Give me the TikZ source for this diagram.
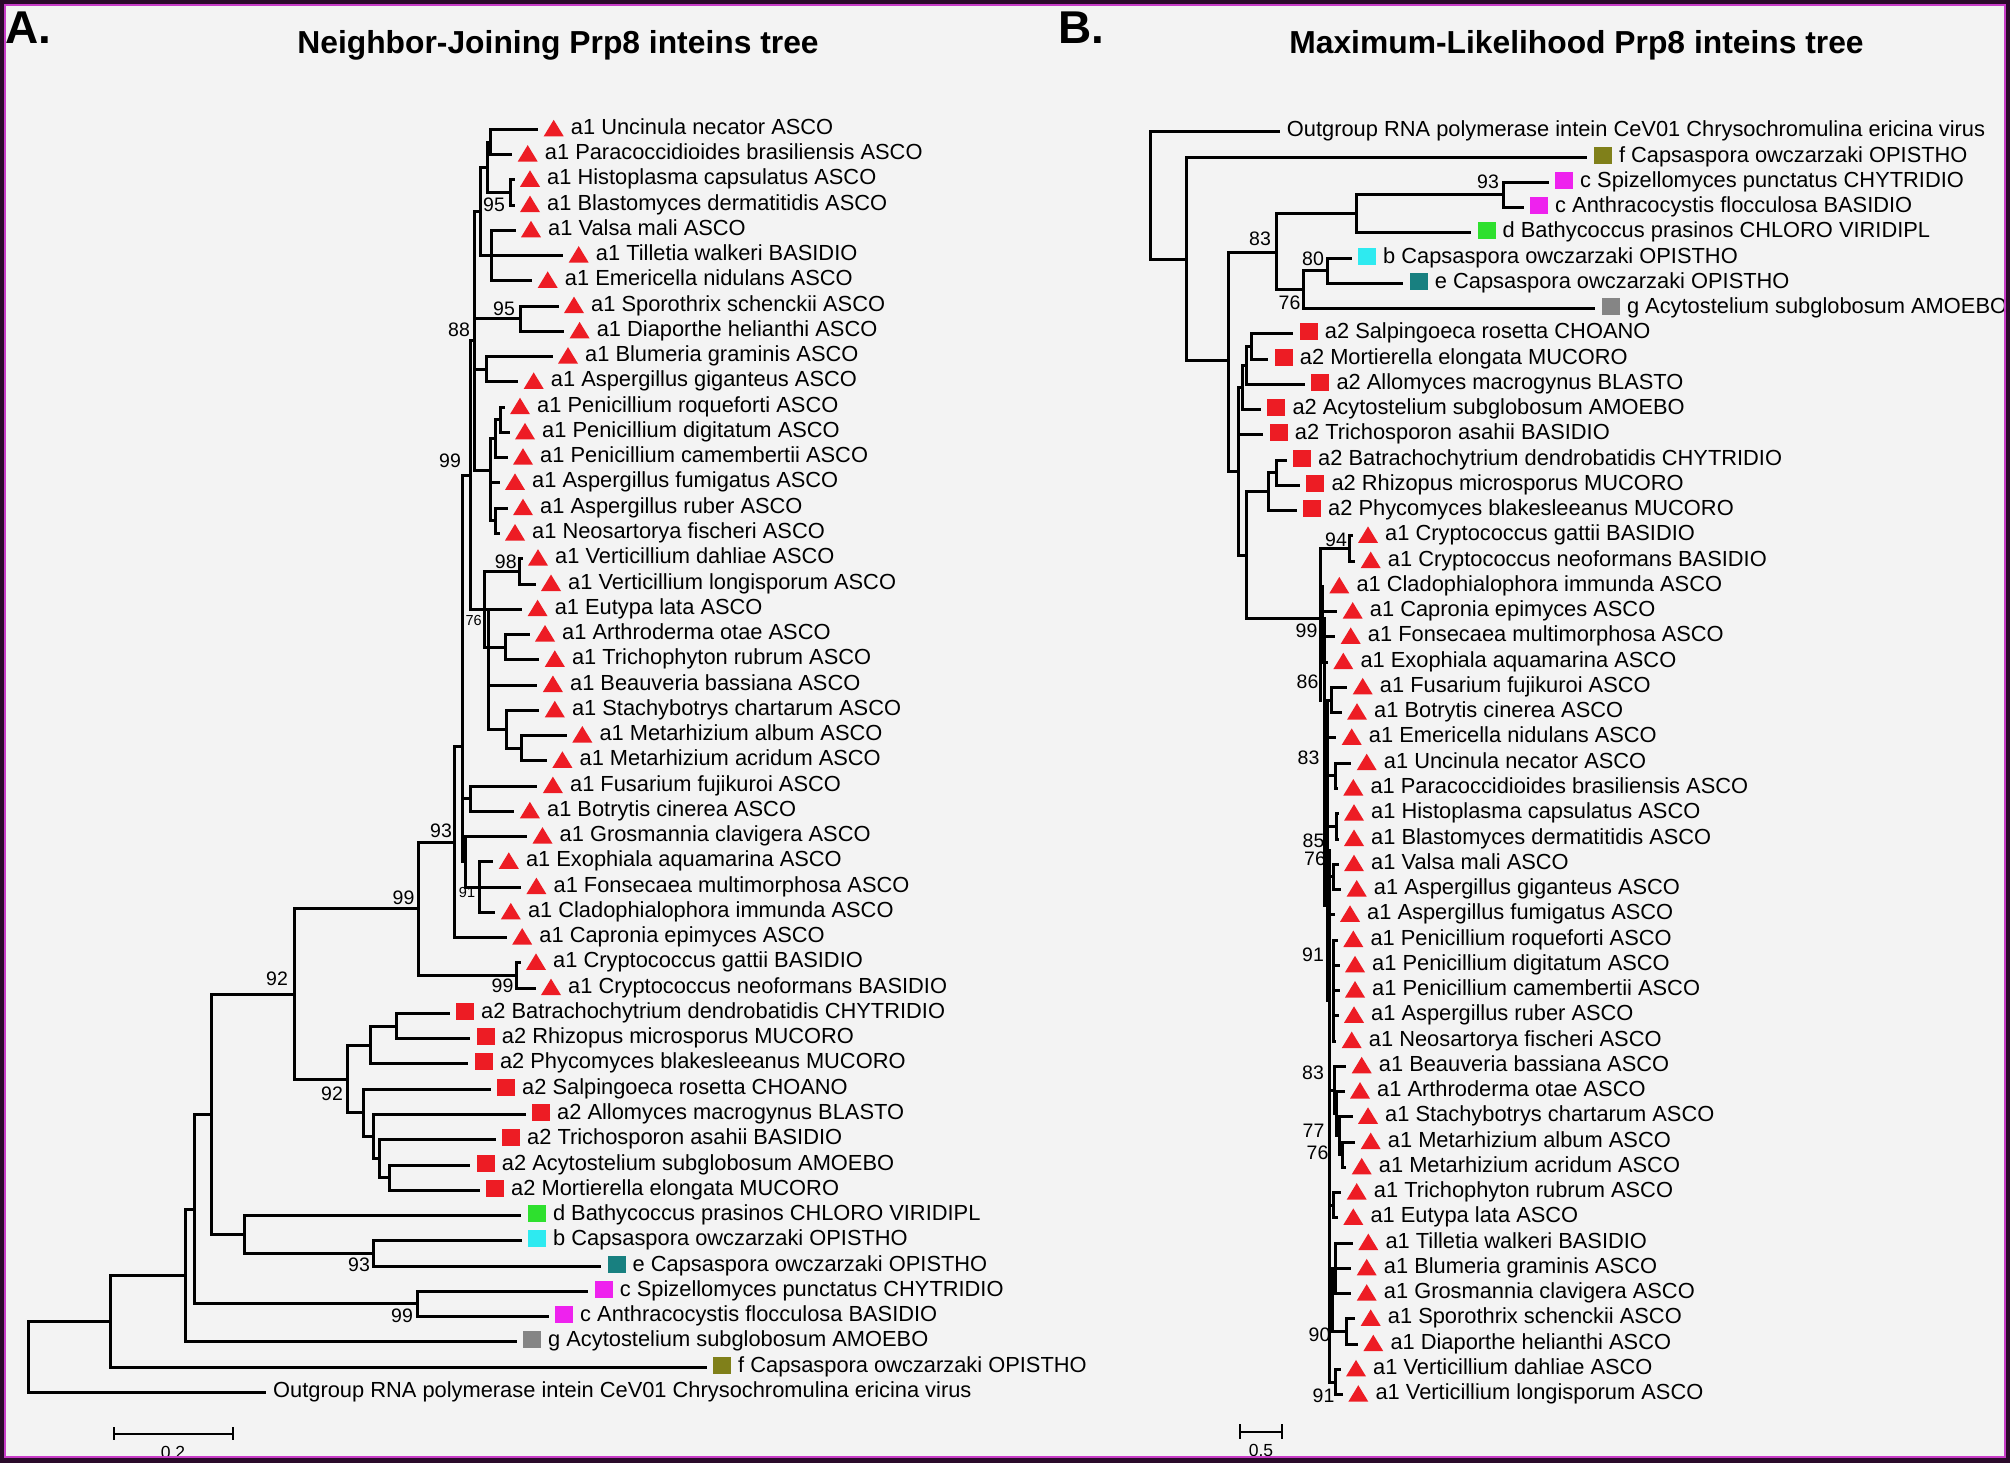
\documentclass[tikz,border=0pt]{standalone}
\usepackage{fontspec}
\setmainfont{Liberation Sans}
\definecolor{mkred}{HTML}{ED1C24}
\definecolor{mkgreen}{HTML}{2EE02E}
\definecolor{mkcyan}{HTML}{2EEAF0}
\definecolor{mkteal}{HTML}{188080}
\definecolor{mkmag}{HTML}{EE22EE}
\definecolor{mkgray}{HTML}{858585}
\definecolor{mkolive}{HTML}{80801A}
\definecolor{bgc}{HTML}{F3F3F3}
\definecolor{framedark}{HTML}{2A0A2A}
\definecolor{framemag}{HTML}{C83CC8}
\tikzset{
  br/.style={line width=3pt, line cap=rect},
  lbl/.style={inner sep=0pt, font=\fontsize{21.85}{24}\selectfont, anchor=base west},
  bs/.style={inner sep=0pt, font=\fontsize{19.5}{22}\selectfont},
  bss/.style={inner sep=0pt, font=\fontsize{14.5}{16}\selectfont},
  titl/.style={inner sep=0pt, font=\fontsize{31.8}{34}\selectfont\bfseries, anchor=base},
  panl/.style={inner sep=0pt, font=\fontsize{46}{50}\selectfont\bfseries, anchor=base west},
  sclbl/.style={inner sep=0pt, font=\fontsize{17.5}{19}\selectfont},
}
\newcommand\trileaf[4]{%
  \fill[mkred] (#2+7,#3+7) -- (#2+27,#3+7) -- (#2+17,#3-9.5) -- cycle;
  \node[lbl] (#1) at (#2+34,#3+5) {#4};}
\newcommand\sqleaf[5]{%
  \fill[#4] (#2+8,#3-10.5) rectangle (#2+26,#3+6.5);
  \node[lbl] (#1) at (#2+33,#3+5) {#5};}
\begin{document}
\begin{tikzpicture}[x=1pt,y=-1pt]
\useasboundingbox (0,0) rectangle (2010,1462);
\fill[bgc] (0,0) rectangle (2010,1462);

% ---------- headings
\node[panl] (pA) at (5,43) {A.};
\node[panl] (pB) at (1058,43) {B.};
\node[titl] (tA) at (558,53) {Neighbor-Joining Prp8 inteins tree};
\node[titl] (tB) at (1576.5,53) {Maximum-Likelihood Prp8 inteins tree};

% ---------- Panel A branches
\draw[br]
(490,129.3)--(490,154.6) (490,129.3)--(536.7,129.3) (490,154.6)--(510.7,154.6)
(510.7,179.8)--(510.7,205.1) (510.7,179.8)--(513,179.8) (510.7,205.1)--(513,205.1)
(487,142)--(487,192.5) (487,142)--(490,142) (487,192.5)--(510.7,192.5)
(491.7,230.3)--(491.7,280.9) (491.7,230.3)--(514,230.3) (480,255.6)--(561.7,255.6) (491.7,280.9)--(530.7,280.9)
(480,167.2)--(480,255.6) (480,167.2)--(487,167.2)
(520,306.1)--(520,331.4) (520,306.1)--(557,306.1) (520,331.4)--(562.6,331.4)
(486.7,356.6)--(486.7,381.9) (486.7,356.6)--(551,356.6) (486.7,381.9)--(516.7,381.9)
(500.3,407.2)--(500.3,432.4) (500.3,407.2)--(503,407.2) (500.3,432.4)--(508,432.4)
(495.7,419.8)--(495.7,457.7) (495.7,419.8)--(500.3,419.8) (495.7,457.7)--(506,457.7)
(495.7,508.2)--(495.7,533.5) (495.7,508.2)--(506,508.2) (495.7,533.5)--(498,533.5)
(490,438.7)--(490,520.8) (490,438.7)--(495.7,438.7) (490,482.9)--(498,482.9) (490,520.8)--(495.7,520.8)
(474,211.4)--(474,470) (474,211.4)--(480,211.4) (474,318.8)--(520,318.8) (474,369.2)--(486.7,369.2) (474,470)--(490,470)
(519.8,558.7)--(519.8,584) (519.8,558.7)--(521,558.7) (519.8,584)--(534,584)
(484.2,571.3)--(484.2,646.7) (484.2,571.3)--(519.8,571.3) (470.8,609.2)--(520.6,609.2)
(488.3,609.2)--(488.3,729.2) (484.2,647.1)--(505.2,647.1) (488.3,685)--(535.9,685) (488.3,729.2)--(506.4,729.2)
(505.2,634.5)--(505.2,659.8) (505.2,634.5)--(528,634.5) (505.2,659.8)--(537.8,659.8)
(506.4,710.3)--(506.4,748.1) (506.4,710.3)--(537.8,710.3) (506.4,748.1)--(521.7,748.1)
(521.7,735.5)--(521.7,760.8) (521.7,735.5)--(565.3,735.5) (521.7,760.8)--(545.4,760.8)
(470.8,340.7)--(470.8,609.2) (470.8,340.7)--(474,340.7)
(462.7,475)--(462.7,861.8) (462.7,475)--(470.8,475) (462.7,798.7)--(470,798.7) (462.7,861.8)--(465,861.8)
(470,786.1)--(470,811.3) (470,786.1)--(535.9,786.1) (470,811.3)--(512.9,811.3)
(465,836.6)--(465,887.1) (465,836.6)--(525.5,836.6) (465,887.1)--(479.3,887.1)
(479.3,861.8)--(479.3,912.4) (479.3,861.8)--(491.8,861.8) (479.3,887.1)--(519.4,887.1) (479.3,912.4)--(493.8,912.4)
(454,746.7)--(454,937.6) (454,746.7)--(462.7,746.7) (454,937.6)--(505.2,937.6)
(516.7,962.9)--(516.7,988.1) (516.7,962.9)--(519,962.9) (516.7,988.1)--(534,988.1)
(418.3,842.2)--(418.3,975.5) (418.3,842.2)--(454,842.2) (418.3,975.5)--(516.7,975.5)
(396.7,1013.4)--(396.7,1038.7) (396.7,1013.4)--(448,1013.4) (396.7,1038.7)--(468.7,1038.7)
(370,1026)--(370,1063.9) (370,1026)--(396.7,1026) (370,1063.9)--(466.8,1063.9)
(389,1165)--(389,1190.2) (389,1165)--(468.7,1165) (389,1190.2)--(478,1190.2)
(379.5,1139.7)--(379.5,1177.6) (379.5,1139.7)--(494,1139.7) (379.5,1177.6)--(389,1177.6)
(373,1114.4)--(373,1158.7) (373,1114.4)--(524,1114.4) (373,1158.7)--(379.5,1158.7)
(363.5,1089.2)--(363.5,1136.6) (363.5,1089.2)--(489,1089.2) (363.5,1136.6)--(373,1136.6)
(347.6,1045)--(347.6,1112.9) (347.6,1045)--(370,1045) (347.6,1112.9)--(363.5,1112.9)
(294.6,908.9)--(294.6,1079) (294.6,908.9)--(418.3,908.9) (294.6,1079)--(347.6,1079)
(373,1240.7)--(373,1266) (373,1240.7)--(520,1240.7) (373,1266)--(599.5,1266)
(244.3,1215.5)--(244.3,1253.4) (244.3,1215.5)--(519.8,1215.5) (244.3,1253.4)--(373,1253.4)
(211.7,994)--(211.7,1234.5) (211.7,994)--(294.6,994) (211.7,1234.5)--(244.3,1234.5)
(417.7,1291.3)--(417.7,1316.5) (417.7,1291.3)--(586.7,1291.3) (417.7,1316.5)--(547,1316.5)
(194.5,1114.2)--(194.5,1303.9) (194.5,1114.2)--(211.7,1114.2) (194.5,1303.9)--(417.7,1303.9)
(185,1209)--(185,1341.8) (185,1209)--(194.5,1209) (185,1341.8)--(515,1341.8)
(110,1275.4)--(110,1367) (110,1275.4)--(185,1275.4) (110,1367)--(705,1367)
(28.7,1321.2)--(28.7,1392.3) (28.7,1321.2)--(110,1321.2) (28.7,1392.3)--(264.7,1392.3);

% ---------- Panel A leaves
\trileaf{a1}{536.7}{129.3}{a1 Uncinula necator ASCO}
\trileaf{a2}{510.7}{154.6}{a1 Paracoccidioides brasiliensis ASCO}
\trileaf{a3}{513}{179.8}{a1 Histoplasma capsulatus ASCO}
\trileaf{a4}{513}{205.1}{a1 Blastomyces dermatitidis ASCO}
\trileaf{a5}{514}{230.3}{a1 Valsa mali ASCO}
\trileaf{a6}{561.7}{255.6}{a1 Tilletia walkeri BASIDIO}
\trileaf{a7}{530.7}{280.9}{a1 Emericella nidulans ASCO}
\trileaf{a8}{557}{306.1}{a1 Sporothrix schenckii ASCO}
\trileaf{a9}{562.6}{331.4}{a1 Diaporthe helianthi ASCO}
\trileaf{a10}{551}{356.6}{a1 Blumeria graminis ASCO}
\trileaf{a11}{516.7}{381.9}{a1 Aspergillus giganteus ASCO}
\trileaf{a12}{503}{407.2}{a1 Penicillium roqueforti ASCO}
\trileaf{a13}{508}{432.4}{a1 Penicillium digitatum ASCO}
\trileaf{a14}{506}{457.7}{a1 Penicillium camembertii ASCO}
\trileaf{a15}{498}{482.9}{a1 Aspergillus fumigatus ASCO}
\trileaf{a16}{506}{508.2}{a1 Aspergillus ruber ASCO}
\trileaf{a17}{498}{533.5}{a1 Neosartorya fischeri ASCO}
\trileaf{a18}{521}{558.7}{a1 Verticillium dahliae ASCO}
\trileaf{a19}{534}{584}{a1 Verticillium longisporum ASCO}
\trileaf{a20}{520.6}{609.2}{a1 Eutypa lata ASCO}
\trileaf{a21}{528}{634.5}{a1 Arthroderma otae ASCO}
\trileaf{a22}{537.8}{659.8}{a1 Trichophyton rubrum ASCO}
\trileaf{a23}{535.9}{685}{a1 Beauveria bassiana ASCO}
\trileaf{a24}{537.8}{710.3}{a1 Stachybotrys chartarum ASCO}
\trileaf{a25}{565.3}{735.5}{a1 Metarhizium album ASCO}
\trileaf{a26}{545.4}{760.8}{a1 Metarhizium acridum ASCO}
\trileaf{a27}{535.9}{786.1}{a1 Fusarium fujikuroi ASCO}
\trileaf{a28}{512.9}{811.3}{a1 Botrytis cinerea ASCO}
\trileaf{a29}{525.5}{836.6}{a1 Grosmannia clavigera ASCO}
\trileaf{a30}{491.8}{861.8}{a1 Exophiala aquamarina ASCO}
\trileaf{a31}{519.4}{887.1}{a1 Fonsecaea multimorphosa ASCO}
\trileaf{a32}{493.8}{912.4}{a1 Cladophialophora immunda ASCO}
\trileaf{a33}{505.2}{937.6}{a1 Capronia epimyces ASCO}
\trileaf{a34}{519}{962.9}{a1 Cryptococcus gattii BASIDIO}
\trileaf{a35}{534}{988.1}{a1 Cryptococcus neoformans BASIDIO}
\sqleaf{a36}{448}{1013.4}{mkred}{a2 Batrachochytrium dendrobatidis CHYTRIDIO}
\sqleaf{a37}{468.7}{1038.7}{mkred}{a2 Rhizopus microsporus MUCORO}
\sqleaf{a38}{466.8}{1063.9}{mkred}{a2 Phycomyces blakesleeanus MUCORO}
\sqleaf{a39}{489}{1089.2}{mkred}{a2 Salpingoeca rosetta CHOANO}
\sqleaf{a40}{524}{1114.4}{mkred}{a2 Allomyces macrogynus BLASTO}
\sqleaf{a41}{494}{1139.7}{mkred}{a2 Trichosporon asahii BASIDIO}
\sqleaf{a42}{468.7}{1165}{mkred}{a2 Acytostelium subglobosum AMOEBO}
\sqleaf{a43}{478}{1190.2}{mkred}{a2 Mortierella elongata MUCORO}
\sqleaf{a44}{519.8}{1215.5}{mkgreen}{d Bathycoccus prasinos CHLORO VIRIDIPL}
\sqleaf{a45}{520}{1240.7}{mkcyan}{b Capsaspora owczarzaki OPISTHO}
\sqleaf{a46}{599.5}{1266}{mkteal}{e Capsaspora owczarzaki OPISTHO}
\sqleaf{a47}{586.7}{1291.3}{mkmag}{c Spizellomyces punctatus CHYTRIDIO}
\sqleaf{a48}{547}{1316.5}{mkmag}{c Anthracocystis flocculosa BASIDIO}
\sqleaf{a49}{515}{1341.8}{mkgray}{g Acytostelium subglobosum AMOEBO}
\sqleaf{a50}{705}{1367}{mkolive}{f Capsaspora owczarzaki OPISTHO}
\node[lbl] (a51) at (273,1397.3) {Outgroup RNA polymerase intein CeV01 Chrysochromulina ericina virus};

% ---------- Panel A bootstrap values
\node[bs] (sA1) at (494,204.5) {95};
\node[bs] (sA2) at (504,308.5) {95};
\node[bs] (sA3) at (459,329.5) {88};
\node[bs] (sA4) at (450,460.5) {99};
\node[bs] (sA5) at (505.8,561.5) {98};
\node[bss] (sA6) at (473.6,620) {76};
\node[bs] (sA7) at (441,830.5) {93};
\node[bss] (sA8) at (467,892.5) {91};
\node[bs] (sA9) at (403.5,897.5) {99};
\node[bs] (sA10) at (502.5,985.5) {99};
\node[bs] (sA11) at (277,979) {92};
\node[bs] (sA12) at (332,1094) {92};
\node[bs] (sA13) at (359,1265) {93};
\node[bs] (sA14) at (402,1316) {99};

% ---------- Panel A scale bar
\draw[line width=2pt] (113.5,1433.5)--(232.8,1433.5) (113.5,1427)--(113.5,1440) (232.8,1427)--(232.8,1440);
\node[sclbl] (scA) at (173,1452) {0.2};

% ---------- Panel B branches
\draw[br]
(1150,131.7)--(1150,259.5) (1150,131.7)--(1278.3,131.7) (1150,259.5)--(1186.7,259.5)
(1186.7,157)--(1186.7,360.8) (1186.7,157)--(1585.8,157) (1186.7,360.8)--(1228.3,360.8)
(1228.3,252)--(1228.3,471) (1228.3,252)--(1276,252) (1228.3,471)--(1238.3,471)
(1276,213.8)--(1276,289.6) (1276,213.8)--(1356.7,213.8) (1276,289.6)--(1303.3,289.6)
(1356.7,194.8)--(1356.7,232.7) (1356.7,194.8)--(1503,194.8) (1356.7,232.7)--(1469.5,232.7)
(1503,182.2)--(1503,207.5) (1503,182.2)--(1547,182.2) (1503,207.5)--(1522,207.5)
(1303.3,270.6)--(1303.3,308.5) (1303.3,270.6)--(1327.7,270.6) (1303.3,308.5)--(1593.8,308.5)
(1327.7,258)--(1327.7,283.3) (1327.7,258)--(1350,258) (1327.7,283.3)--(1401.7,283.3)
(1251.7,333.8)--(1251.7,359) (1251.7,333.8)--(1291.7,333.8) (1251.7,359)--(1266.7,359)
(1246.7,346.4)--(1246.7,384.3) (1246.7,346.4)--(1251.7,346.4) (1246.7,384.3)--(1303.3,384.3)
(1242.7,365.4)--(1242.7,409.6) (1242.7,365.4)--(1246.7,365.4) (1242.7,409.6)--(1259.3,409.6)
(1238.3,387.5)--(1238.3,555) (1238.3,387.5)--(1242.7,387.5) (1238.3,434.8)--(1261.7,434.8) (1238.3,555)--(1246.7,555)
(1276.7,460.1)--(1276.7,485.3) (1276.7,460.1)--(1285,460.1) (1276.7,485.3)--(1298.3,485.3)
(1268.3,472.7)--(1268.3,510.6) (1268.3,472.7)--(1276.7,472.7) (1268.3,510.6)--(1295,510.6)
(1246.7,491.7)--(1246.7,618.3) (1246.7,491.7)--(1268.3,491.7) (1246.7,618.3)--(1320,618.3)
(1349.3,535.9)--(1349.3,561.1) (1349.3,535.9)--(1351,535.9) (1349.3,561.1)--(1353.7,561.1)
(1320,548.5)--(1320,700) (1320,548.5)--(1349.3,548.5)
(1320,586.4)--(1322.3,586.4)
(1322,586.4)--(1322,662.2) (1322,611.6)--(1335.7,611.6) (1322,636.9)--(1333.7,636.9) (1322,662.2)--(1326.3,662.2)
(1324,618.3)--(1324,905)
(1331.7,687.4)--(1331.7,712.7) (1331.7,687.4)--(1345.7,687.4) (1331.7,712.7)--(1340,712.7) (1324,700)--(1331.7,700)
(1324,737.9)--(1334.7,737.9)
(1327,700)--(1327,1000)
(1335,763.2)--(1335,788.5) (1335,763.2)--(1349.7,763.2) (1335,788.5)--(1336.3,788.5) (1327,775.8)--(1335,775.8)
(1336,813.7)--(1336,839) (1336,813.7)--(1337,813.7) (1336,839)--(1337,839) (1327,826.3)--(1336,826.3)
(1333,864.2)--(1333,889.5) (1333,864.2)--(1337,864.2) (1333,889.5)--(1339.7,889.5) (1327,876.8)--(1333,876.8)
(1329,850)--(1329,1382)
(1329,914.8)--(1333,914.8)
(1333,940)--(1333,1041.1) (1333,940)--(1336.3,940) (1333,965.3)--(1338,965.3) (1333,990.5)--(1338,990.5) (1333,1015.8)--(1337,1015.8) (1333,1041.1)--(1334.7,1041.1)
(1334,1066.3)--(1334,1113.7) (1334,1066.3)--(1344.7,1066.3) (1329,1090)--(1334,1090)
(1336.5,1091.6)--(1336.5,1135.8) (1336.5,1091.6)--(1343,1091.6) (1334,1113.7)--(1336.5,1113.7) (1336.5,1135.8)--(1339.3,1135.8)
(1339.3,1116.8)--(1339.3,1154.8) (1339.3,1116.8)--(1351,1116.8) (1339.3,1154.8)--(1342.7,1154.8)
(1342.7,1142.1)--(1342.7,1167.4) (1342.7,1142.1)--(1353.7,1142.1) (1342.7,1167.4)--(1344.7,1167.4)
(1333,1192.6)--(1333,1217.9) (1333,1192.6)--(1339.7,1192.6) (1333,1217.9)--(1336.3,1217.9) (1329,1205.3)--(1333,1205.3)
(1335,1243.1)--(1335,1293.7) (1335,1243.1)--(1351.3,1243.1) (1335,1268.4)--(1349.7,1268.4) (1335,1293.7)--(1349.7,1293.7)
(1332,1268.4)--(1332,1331.6) (1332,1331.6)--(1346,1331.6)
(1346,1318.9)--(1346,1344.2) (1346,1318.9)--(1353.7,1318.9) (1346,1344.2)--(1356.3,1344.2)
(1335,1369.4)--(1335,1394.7) (1335,1369.4)--(1339,1369.4) (1335,1394.7)--(1341.3,1394.7) (1329,1382)--(1335,1382);

% ---------- Panel B leaves
\node[lbl] (b1) at (1286.7,136.7) {Outgroup RNA polymerase intein CeV01 Chrysochromulina ericina virus};
\sqleaf{b2}{1585.8}{157}{mkolive}{f Capsaspora owczarzaki OPISTHO}
\sqleaf{b3}{1547}{182.2}{mkmag}{c Spizellomyces punctatus CHYTRIDIO}
\sqleaf{b4}{1522}{207.5}{mkmag}{c Anthracocystis flocculosa BASIDIO}
\sqleaf{b5}{1469.5}{232.7}{mkgreen}{d Bathycoccus prasinos CHLORO VIRIDIPL}
\sqleaf{b6}{1350}{258}{mkcyan}{b Capsaspora owczarzaki OPISTHO}
\sqleaf{b7}{1401.7}{283.3}{mkteal}{e Capsaspora owczarzaki OPISTHO}
\sqleaf{b8}{1593.8}{308.5}{mkgray}{g Acytostelium subglobosum AMOEBO}
\sqleaf{b9}{1291.7}{333.8}{mkred}{a2 Salpingoeca rosetta CHOANO}
\sqleaf{b10}{1266.7}{359}{mkred}{a2 Mortierella elongata MUCORO}
\sqleaf{b11}{1303.3}{384.3}{mkred}{a2 Allomyces macrogynus BLASTO}
\sqleaf{b12}{1259.3}{409.6}{mkred}{a2 Acytostelium subglobosum AMOEBO}
\sqleaf{b13}{1261.7}{434.8}{mkred}{a2 Trichosporon asahii BASIDIO}
\sqleaf{b14}{1285}{460.1}{mkred}{a2 Batrachochytrium dendrobatidis CHYTRIDIO}
\sqleaf{b15}{1298.3}{485.3}{mkred}{a2 Rhizopus microsporus MUCORO}
\sqleaf{b16}{1295}{510.6}{mkred}{a2 Phycomyces blakesleeanus MUCORO}
\trileaf{b17}{1351}{535.9}{a1 Cryptococcus gattii BASIDIO}
\trileaf{b18}{1353.7}{561.1}{a1 Cryptococcus neoformans BASIDIO}
\trileaf{b19}{1322.3}{586.4}{a1 Cladophialophora immunda ASCO}
\trileaf{b20}{1335.7}{611.6}{a1 Capronia epimyces ASCO}
\trileaf{b21}{1333.7}{636.9}{a1 Fonsecaea multimorphosa ASCO}
\trileaf{b22}{1326.3}{662.2}{a1 Exophiala aquamarina ASCO}
\trileaf{b23}{1345.7}{687.4}{a1 Fusarium fujikuroi ASCO}
\trileaf{b24}{1340}{712.7}{a1 Botrytis cinerea ASCO}
\trileaf{b25}{1334.7}{737.9}{a1 Emericella nidulans ASCO}
\trileaf{b26}{1349.7}{763.2}{a1 Uncinula necator ASCO}
\trileaf{b27}{1336.3}{788.5}{a1 Paracoccidioides brasiliensis ASCO}
\trileaf{b28}{1337}{813.7}{a1 Histoplasma capsulatus ASCO}
\trileaf{b29}{1337}{839}{a1 Blastomyces dermatitidis ASCO}
\trileaf{b30}{1337}{864.2}{a1 Valsa mali ASCO}
\trileaf{b31}{1339.7}{889.5}{a1 Aspergillus giganteus ASCO}
\trileaf{b32}{1333}{914.8}{a1 Aspergillus fumigatus ASCO}
\trileaf{b33}{1336.3}{940}{a1 Penicillium roqueforti ASCO}
\trileaf{b34}{1338}{965.3}{a1 Penicillium digitatum ASCO}
\trileaf{b35}{1338}{990.5}{a1 Penicillium camembertii ASCO}
\trileaf{b36}{1337}{1015.8}{a1 Aspergillus ruber ASCO}
\trileaf{b37}{1334.7}{1041.1}{a1 Neosartorya fischeri ASCO}
\trileaf{b38}{1344.7}{1066.3}{a1 Beauveria bassiana ASCO}
\trileaf{b39}{1343}{1091.6}{a1 Arthroderma otae ASCO}
\trileaf{b40}{1351}{1116.8}{a1 Stachybotrys chartarum ASCO}
\trileaf{b41}{1353.7}{1142.1}{a1 Metarhizium album ASCO}
\trileaf{b42}{1344.7}{1167.4}{a1 Metarhizium acridum ASCO}
\trileaf{b43}{1339.7}{1192.6}{a1 Trichophyton rubrum ASCO}
\trileaf{b44}{1336.3}{1217.9}{a1 Eutypa lata ASCO}
\trileaf{b45}{1351.3}{1243.1}{a1 Tilletia walkeri BASIDIO}
\trileaf{b46}{1349.7}{1268.4}{a1 Blumeria graminis ASCO}
\trileaf{b47}{1349.7}{1293.7}{a1 Grosmannia clavigera ASCO}
\trileaf{b48}{1353.7}{1318.9}{a1 Sporothrix schenckii ASCO}
\trileaf{b49}{1356.3}{1344.2}{a1 Diaporthe helianthi ASCO}
\trileaf{b50}{1339}{1369.4}{a1 Verticillium dahliae ASCO}
\trileaf{b51}{1341.3}{1394.7}{a1 Verticillium longisporum ASCO}

% ---------- Panel B bootstrap values
\node[bs] (sB1) at (1488,182) {93};
\node[bs] (sB2) at (1260,239) {83};
\node[bs] (sB3) at (1313,259) {80};
\node[bs] (sB4) at (1289.5,302.5) {76};
\node[bs] (sB5) at (1336,540) {94};
\node[bs] (sB6) at (1306.5,631) {99};
\node[bs] (sB7) at (1307.5,681.5) {86};
\node[bs] (sB8) at (1308.5,757.5) {83};
\node[bs] (sB9) at (1313.5,841) {85};
\node[bs] (sB10) at (1315,859) {76};
\node[bs] (sB11) at (1313,955) {91};
\node[bs] (sB12) at (1313,1072.5) {83};
\node[bs] (sB13) at (1313.5,1130.5) {77};
\node[bs] (sB14) at (1317.5,1152.5) {76};
\node[bs] (sB15) at (1319.5,1335) {90};
\node[bs] (sB16) at (1323.5,1395.5) {91};

% ---------- Panel B scale bar
\draw[line width=2pt] (1240,1431.7)--(1282.3,1431.7) (1240,1424)--(1240,1439) (1282.3,1424)--(1282.3,1439);
\node[sclbl] (scB) at (1261,1450) {0.5};

% ---------- frame
\draw[line width=8pt, framedark] (0,0) rectangle (2010,1462);
\draw[line width=2.5pt, framemag] (5.2,5.2) rectangle (2004.8,1456.8);
\end{tikzpicture}
\end{document}
